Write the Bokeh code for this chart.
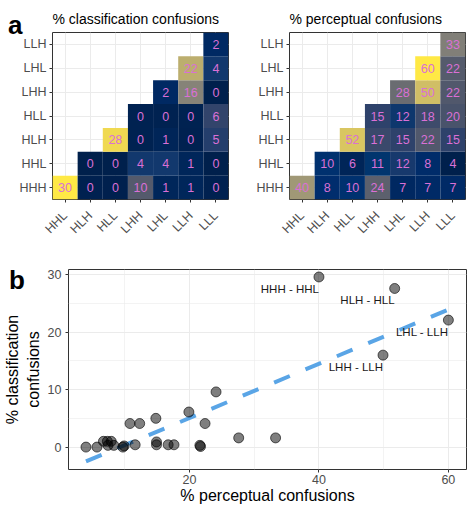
import math
import numpy as np
from bokeh.plotting import figure
from bokeh.layouts import column, row
from bokeh.models import (LinearColorMapper, ColumnDataSource, FixedTicker, Range1d, Div)
from bokeh.palettes import Cividis256
from bokeh.embed import file_html
from bokeh.resources import INLINE
from bokeh.core.properties import value

FONT = "Liberation Sans"

# rows bottom -> top, columns left -> right
ROWS = ["HHH", "HHL", "HLH", "HLL", "LHH", "LHL", "LLH"]
COLS = ["HHL", "HLH", "HLL", "LHH", "LHL", "LLH", "LLL"]

# upper triangle: row i holds values for COLS[i:]
classification = [
    [29.6, 0.3, 0.2, 9.6, 1.0, 1.0, 0.3],
    [0.0, 0.0, 4.1, 4.1, 1.0, 0.0],
    [27.6, 0.4, 0.9, 0.3, 5.0],
    [0.4, 0.4, 0.4, 6.1],
    [1.6, 16.0, 0.1],
    [22.1, 4.1],
    [1.6],
]
perceptual = [
    [40.0, 8.3, 9.9, 24.1, 6.7, 7.3, 7.4],
    [9.7, 5.7, 10.8, 12.3, 7.9, 4.0],
    [51.7, 16.7, 14.9, 21.6, 14.8],
    [14.9, 11.6, 17.6, 19.9],
    [27.6, 49.9, 21.7],
    [60.0, 22.4],
    [33.3],
]
LABELED = ["HHH - HHL", "HLH - HLL", "LHL - LLH", "LHH - LLH"]
PANEL_LETTERS = ["a", "b"]

TEXT_COL = "#DA70D6"
AX_COL = "#4D4D4D"
LINE_COL = "#333333"
GRID_COL = "#EBEBEB"
W, H = 474, 506
HEAT_H = 244
SCAT_H = H - HEAT_H


def cells(mat):
    xs, ys, vs, ts = [], [], [], []
    for i, r in enumerate(ROWS):
        for k, v in enumerate(mat[i]):
            xs.append(COLS[i + k]); ys.append(r); vs.append(v); ts.append(str(int(round(v))))
    return dict(x=xs, y=ys, v=vs, t=ts)


def heat(mat, title, w, bl, br):
    d = cells(mat)
    src = ColumnDataSource(d)
    mapper = LinearColorMapper(palette=Cividis256, low=min(d["v"]), high=max(d["v"]))
    p = figure(x_range=COLS, y_range=ROWS, width=w, height=HEAT_H,
               output_backend="svg", toolbar_location=None, title=title,
               min_border_left=bl, min_border_right=br, min_border_top=32, min_border_bottom=36)
    p.rect(x="x", y="y", width=1, height=1, source=src,
           fill_color={"field": "v", "transform": mapper}, line_color=None)
    p.text(x="x", y="y", text="t", source=src, text_align="center", text_baseline="middle",
           text_color=TEXT_COL, text_font=value(FONT), text_font_size="12.5px")
    p.title.text_font = FONT
    p.title.text_font_size = "14px"
    p.title.text_font_style = "normal"
    p.title.text_color = "black"
    p.title.standoff = 12
    p.outline_line_color = LINE_COL
    p.outline_line_width = 1
    for ax in (p.xaxis, p.yaxis):
        ax.axis_line_color = None
        ax.major_tick_line_color = LINE_COL
        ax.major_tick_out = 3
        ax.major_tick_in = 0
        ax.minor_tick_line_color = None
        ax.major_label_text_font = FONT
        ax.major_label_text_font_size = "12.5px"
        ax.major_label_text_color = AX_COL
        ax.major_label_standoff = 3
    p.xaxis.major_label_orientation = math.pi / 4
    p.xaxis.major_label_standoff = 11
    p.xgrid.grid_line_color = GRID_COL
    p.ygrid.grid_line_color = GRID_COL
    return p


pA = heat(classification, "% classification confusions", 234, 52, 6)
pB = heat(perceptual, "% perceptual confusions", 240, 55, 9)

# scatter
px, cy, lab = [], [], []
for i, r in enumerate(ROWS):
    for k in range(len(classification[i])):
        px.append(perceptual[i][k]); cy.append(classification[i][k])
        name = f"{r} - {COLS[i + k]}"
        lab.append(name if name in LABELED else "")
px = np.array(px); cy = np.array(cy)
slope, icept = np.polyfit(px, cy, 1)
fx = np.array([px.min(), px.max()])
fy = slope * fx + icept

pC = figure(width=W, height=SCAT_H, output_backend="svg", toolbar_location=None,
            x_range=Range1d(1.3, 62.8), y_range=Range1d(-3.9, 30.9),
            min_border_left=68, min_border_right=8, min_border_top=25, min_border_bottom=35)
pC.line(fx, fy, line_color="#5AA5E6", line_width=4, line_dash="17 17")
pC.scatter(px, cy, size=10, fill_color="black", fill_alpha=0.5, line_color="black", line_alpha=0.6)
lsrc = ColumnDataSource(dict(x=[a for a, l in zip(px, lab) if l], y=[b for b, l in zip(cy, lab) if l],
                             t=[l for l in lab if l]))
pC.text(x="x", y="y", text="t", source=lsrc, text_align="right", text_baseline="middle",
        y_offset=12, text_color="#1A1A1A", text_font=value(FONT), text_font_size="11.5px")
pC.outline_line_color = LINE_COL
pC.xaxis.ticker = FixedTicker(ticks=[20, 40, 60], minor_ticks=[10, 30, 50])
pC.yaxis.ticker = FixedTicker(ticks=[0, 10, 20, 30], minor_ticks=[5, 15, 25])
pC.xaxis.axis_label = "% perceptual confusions"
pC.yaxis.axis_label = "% classification\nconfusions"
for ax in (pC.xaxis, pC.yaxis):
    ax.axis_line_color = None
    ax.major_tick_line_color = LINE_COL
    ax.major_tick_out = 3
    ax.major_tick_in = 0
    ax.minor_tick_line_color = None
    ax.major_label_text_font = FONT
    ax.major_label_text_font_size = "12.5px"
    ax.major_label_text_color = AX_COL
    ax.major_label_standoff = 3
    ax.axis_label_text_font = FONT
    ax.axis_label_text_font_size = "16px"
    ax.axis_label_text_font_style = "normal"
    ax.axis_label_text_color = "black"
    ax.axis_label_standoff = 3
pC.xaxis.major_label_standoff = 1
pC.xaxis.axis_label_standoff = 0
for g in (pC.xgrid, pC.ygrid):
    g.grid_line_color = GRID_COL
    g.minor_grid_line_color = GRID_COL
    g.minor_grid_line_width = 0.6


# panel letters as absolutely positioned text blocks
def letter_div(txt, left, top):
    return Div(text=txt, width=20, height=30,
               styles={"position": "absolute", "left": f"{left}px", "top": f"{top}px",
                       "z-index": "10", "font-family": FONT, "font-size": "26px",
                       "font-weight": "bold", "line-height": "26px", "color": "black"})


divs = [letter_div(t, lx, ty) for t, (lx, ty) in zip(PANEL_LETTERS, [(3, 7), (4, 262)])]

layout = column(row(pA, pB, spacing=0), pC, *divs, spacing=0)
open("out.html", "w").write(file_html(layout, INLINE))
